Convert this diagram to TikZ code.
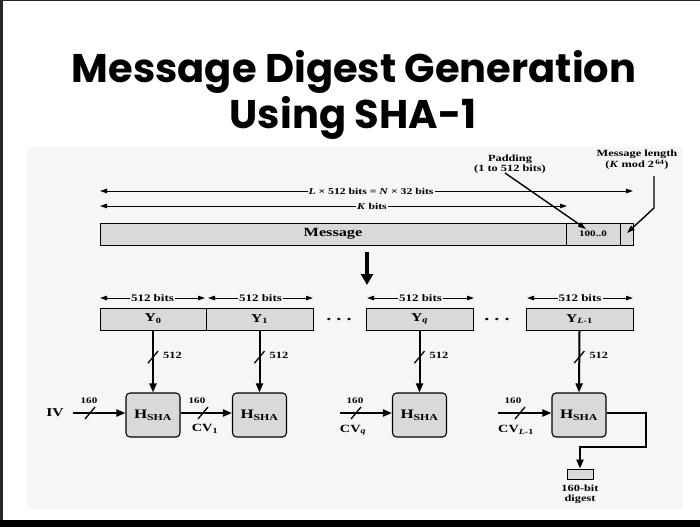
\documentclass[tikz,border=0pt]{standalone}
\usepackage{fontspec}
\setmainfont{Liberation Serif}[FakeStretch=1.3]
\newfontfamily\titlefont{Poppins}
\usetikzlibrary{arrows.meta,calc}
\definecolor{panel}{HTML}{F6F6F6}
\definecolor{boxfill}{HTML}{D9D9D9}
\begin{document}
\begin{tikzpicture}[x=1pt,y=-1pt,
  every node/.style={font=\bfseries},
  bar/.style={draw, line width=0.9pt, fill=boxfill, inner sep=0pt, minimum height=22pt},
  hbox/.style={draw, line width=1.1pt, fill=boxfill, rounded corners=4pt, inner sep=0pt, minimum width=54pt, minimum height=44pt, font=\bfseries\fontsize{13}{13}\selectfont},
  dim/.style={{Triangle[length=7pt,width=4.5pt]}-{Triangle[length=7pt,width=4.5pt]}, line width=0.9pt},
  dimr/.style={-{Triangle[length=8pt,width=5pt]}, line width=1.4pt},
  lbl/.style={fill=panel, inner sep=1pt},
  small/.style={inner sep=0pt, font=\bfseries\fontsize{9.5}{10}\selectfont, align=center},
  arr/.style={-{Triangle[length=9pt,width=7pt]}, line width=2pt},
  busmark/.pic={\draw[line width=1.3pt] (-5,6) -- (5,-6);}
]
\useasboundingbox (0,0) rectangle (700,527);
% frame
\fill[white] (0,0) rectangle (700,527);
\fill[black!85] (0,0) rectangle (700,1.5);
\fill[black!85] (0,0) rectangle (3,527);
\fill[black] (0,520) rectangle (700,527);
% title
\node[anchor=base, font=\titlefont\bfseries\fontsize{40}{40}\selectfont] (t1) at (354,82) {Message Digest Generation};
\node[anchor=base, font=\titlefont\bfseries\fontsize{40}{40}\selectfont] (t2) at (353,128) {Using SHA-1};
% panel
\fill[panel] (27,147) rectangle (683,509);

% message bar
\node[bar, minimum width=466pt, font=\bfseries\fontsize{12.5}{12.5}\selectfont] (msg) at (333,234) {Message};
\node[bar, minimum width=54pt, font=\bfseries\fontsize{8.5}{8.5}\selectfont] (pad) at (593,234) {100..0};
\node[bar, minimum width=13pt] (len) at (626.5,234) {};

% dimension arrows
\coordinate (d1l) at (100,191); \coordinate (d1r) at (633,191);
\coordinate (d2l) at (100,206); \coordinate (d2r) at (567,206);
\draw[dim] (d1l) -- (d1r);
\node[lbl, font=\bfseries\fontsize{9}{9}\selectfont] (lab1) at (371,191) {\textit{L} × 512 bits = \textit{N} × 32 bits};
\draw[dim] (d2l) -- (d2r);
\node[lbl, font=\bfseries\fontsize{9}{9}\selectfont] (lab2) at (372,206) {\textit{K} bits};

% padding and length labels
\node[small] (padlbl) at (510,164) {Padding\\(1 to 512 bits)};
\node[small] (lenlbl) at (637,160) {Message length\\(\textit{K} mod 2\textsuperscript{\,64})};
\coordinate (pa) at (505,173); \coordinate (pb) at (586,229);
\draw[dimr] (pa) -- (pb);
\coordinate (la) at (654,176); \coordinate (lb) at (654,208); \coordinate (lc) at (627,233);
\draw[dimr] (la) -- (lb) -- (lc);

% big arrow
\coordinate (ba) at (367,252); \coordinate (bb) at (367,285);
\draw[-{Triangle[length=11pt,width=12pt]}, line width=3.4pt] (ba) -- (bb);

% blocks
\node[bar, minimum width=106pt, font=\bfseries\fontsize{12}{12}\selectfont] (y0) at (153,319) {Y\textsubscript{0}};
\node[bar, minimum width=107pt, font=\bfseries\fontsize{12}{12}\selectfont] (y1) at (259.5,319) {Y\textsubscript{1}};
\node[bar, minimum width=107pt, font=\bfseries\fontsize{12}{12}\selectfont] (yq) at (419.5,319) {Y\textsubscript{\textit{q}}};
\node[bar, minimum width=107pt, font=\bfseries\fontsize{12}{12}\selectfont] (yl) at (579.5,319) {Y\textsubscript{\textit{L}-1}};
\node[font=\bfseries\fontsize{9}{9}\selectfont] (dots1) at (339,320) {\textbullet\hspace{6pt}\textbullet\hspace{6pt}\textbullet};
\node[font=\bfseries\fontsize{9}{9}\selectfont] (dots2) at (497,320) {\textbullet\hspace{6pt}\textbullet\hspace{6pt}\textbullet};

% 512 bits dims
\foreach \n/\a/\b in {y0/100/205, y1/208/313, yq/367/474, yl/527/633}{
  \coordinate (\n l) at (\a,298); \coordinate (\n r) at (\b,298);
  \draw[dim] (\n l) -- node[lbl, font=\bfseries\fontsize{10}{10}\selectfont] {512 bits} (\n r);
}

% H boxes
\node[hbox] (h1) at (153,415) {H\textsubscript{SHA}};
\node[hbox] (h2) at (259.5,415) {H\textsubscript{SHA}};
\node[hbox] (h3) at (419.5,415) {H\textsubscript{SHA}};
\node[hbox] (h4) at (579,415) {H\textsubscript{SHA}};

% vertical arrows
\foreach \a/\b in {y0/h1, y1/h2, yq/h3, yl/h4}{
  \draw[arr] (\a.south) -- (\b.north);
  \pic at ($(\a.south)!0.43!(\b.north)$) {busmark};
  \node[small, anchor=west] at ($(\a.south)!0.40!(\b.north)+(10,0)$) {512};
}

% horizontal inputs
\node[font=\bfseries\fontsize{12}{12}\selectfont] (iv) at (55,413) {IV};
\coordinate (c3) at (340,413);
\coordinate (c4) at (498,413);
\draw[arr] ($(iv.east)+(6,0)$) -- (iv.east -| h1.west);
\draw[arr] (h1.east |- iv) -- (iv.east -| h2.west);
\draw[arr] (c3) -- (c3 -| h3.west);
\draw[arr] (c4) -- (c4 -| h4.west);
\pic at (90,413) {busmark};
\pic at (203,413) {busmark};
\pic at (356,413) {busmark};
\pic at (520,413) {busmark};
\node[small, font=\bfseries\fontsize{8.5}{9}\selectfont] (n1) at (89,401) {160};
\node[small, font=\bfseries\fontsize{8.5}{9}\selectfont] (n2) at (197,401) {160};
\node[small, font=\bfseries\fontsize{8.5}{9}\selectfont] (n3) at (355,401) {160};
\node[small, font=\bfseries\fontsize{8.5}{9}\selectfont] (n4) at (513,401) {160};
\node[font=\bfseries\fontsize{11}{11}\selectfont] (cv1) at (205,429) {CV\textsubscript{1}};
\node[font=\bfseries\fontsize{11}{11}\selectfont] (cvq) at (353,430) {CV\textsubscript{\textit{q}}};
\node[font=\bfseries\fontsize{11}{11}\selectfont] (cvl) at (516,430) {CV\textsubscript{\textit{L}-1}};

% output
\node[draw, line width=0.9pt, fill=boxfill, minimum width=26pt, minimum height=10pt, inner sep=0pt] (dig) at (580,474) {};
\node[small] (diglbl) at (580,494) {160-bit\\digest};
\coordinate (o1) at (646,447);
\draw[arr] (h4.east |- iv) -| (o1) -- (o1 -| dig) -- (dig.north);
\end{tikzpicture}
\end{document}
